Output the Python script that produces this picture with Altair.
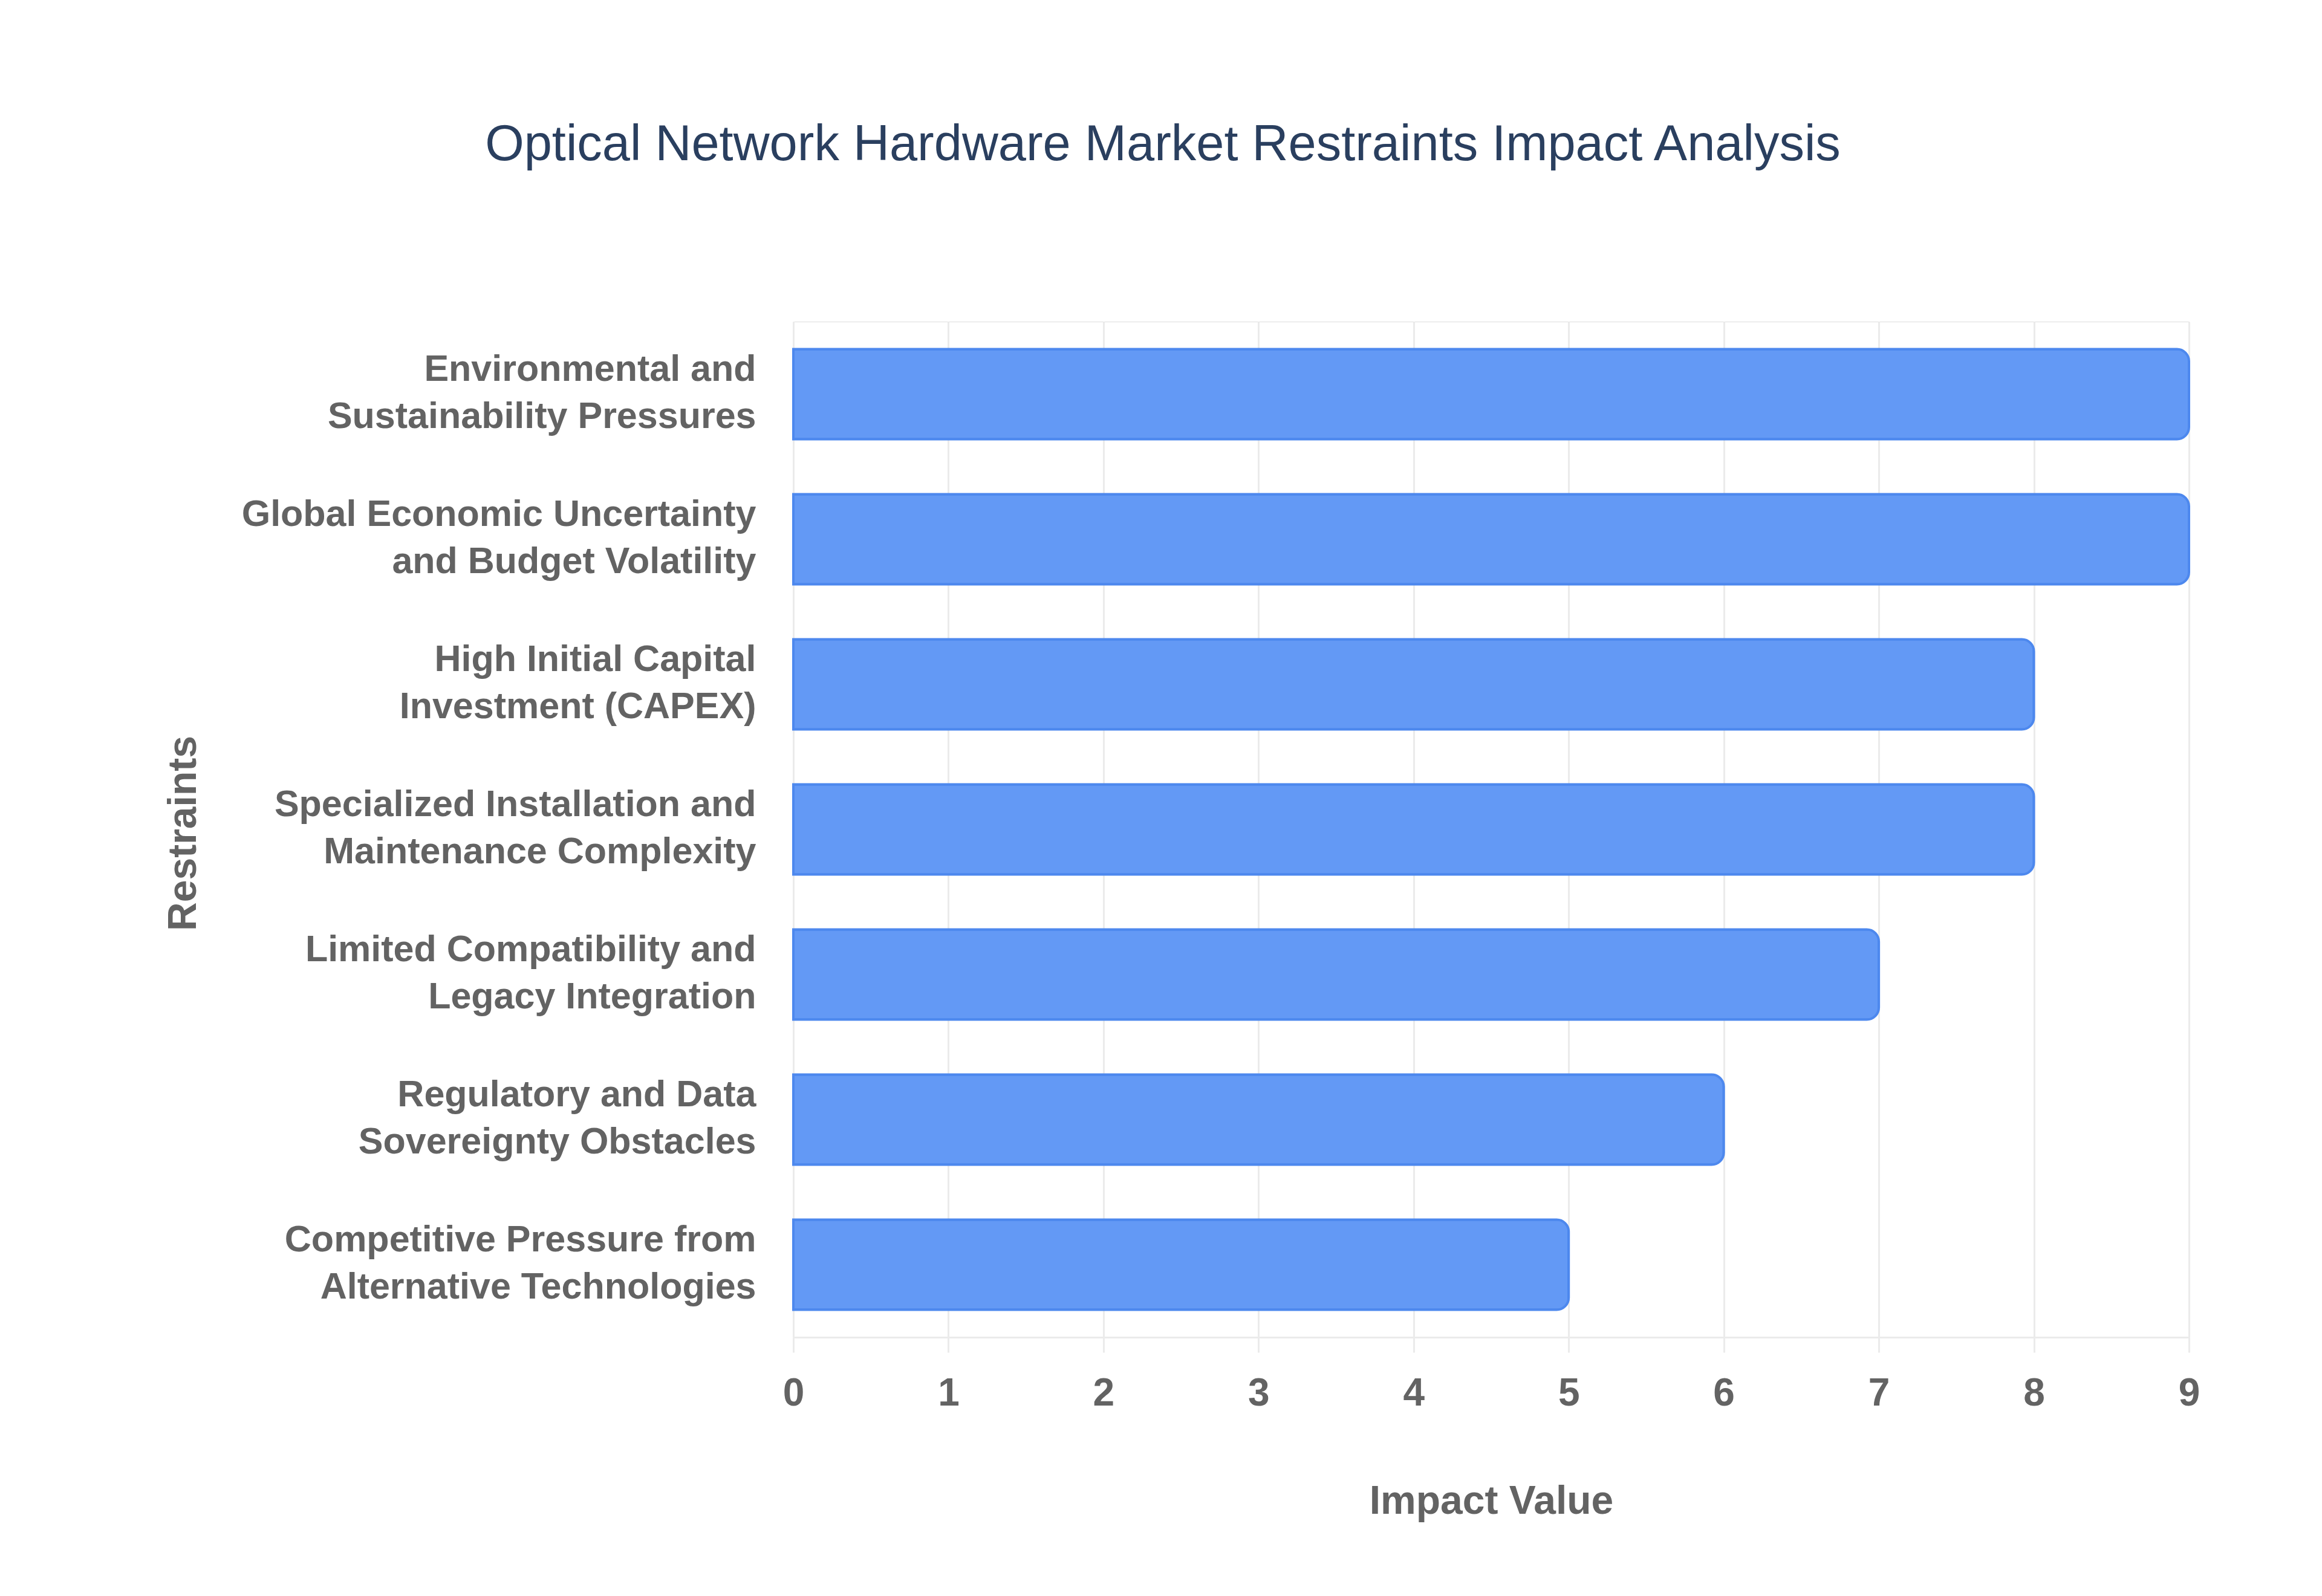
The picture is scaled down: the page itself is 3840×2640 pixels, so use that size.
import altair as alt
import pandas as pd

categories = [
    "Environmental and\nSustainability Pressures",
    "Global Economic Uncertainty\nand Budget Volatility",
    "High Initial Capital\nInvestment (CAPEX)",
    "Specialized Installation and\nMaintenance Complexity",
    "Limited Compatibility and\nLegacy Integration",
    "Regulatory and Data\nSovereignty Obstacles",
    "Competitive Pressure from\nAlternative Technologies",
]
impact = [9, 9, 8, 8, 7, 6, 5]
x_ticks = [0, 1, 2, 3, 4, 5, 6, 7, 8, 9]

df = pd.DataFrame({"Restraint": categories, "Impact": impact})

LABEL_FONT = "Liberation Sans, Arial, sans-serif"
GRAY = "#636363"
GRID = "#ebebeb"

chart = (
    alt.Chart(df)
    .mark_bar(
        color="#6399f5",
        stroke="#4d88ee",
        strokeWidth=4,
        cornerRadiusEnd=20,
    )
    .encode(
        x=alt.X(
            "Impact:Q",
            scale=alt.Scale(domain=[0, 9], nice=False),
            axis=alt.Axis(
                title="Impact Value",
                values=x_ticks,
                format="d",
                grid=True,
                gridColor=GRID,
                gridWidth=3,
                domain=True,
                domainColor=GRID,
                domainWidth=3,
                ticks=True,
                tickColor=GRID,
                tickWidth=3,
                tickSize=25,
                labelFlush=False,
                labelPadding=68,
                labelBaseline="middle",
                labelFont=LABEL_FONT,
                labelFontWeight="bold",
                labelFontSize=64,
                labelColor=GRAY,
                titleFont=LABEL_FONT,
                titleFontWeight="bold",
                titleFontSize=66,
                titleColor=GRAY,
                titleBaseline="middle",
                titleY=271,
            ),
        ),
        y=alt.Y(
            "Restraint:N",
            sort=categories,
            scale=alt.Scale(paddingInner=0.38, paddingOuter=0.19),
            axis=alt.Axis(
                title="Restraints",
                grid=False,
                domain=True,
                domainColor=GRID,
                domainWidth=3,
                ticks=False,
                tickSize=0,
                labelPadding=62,
                labelOffset=-40,
                labelExpr="split(datum.label, '\\n')",
                labelLineHeight=78,
                labelAlign="right",
                labelBaseline="middle",
                labelFont=LABEL_FONT,
                labelFontWeight="bold",
                labelFontSize=61,
                labelColor=GRAY,
                labelLimit=2000,
                titleFont=LABEL_FONT,
                titleFontWeight="bold",
                titleFontSize=66,
                titleColor=GRAY,
                titleAngle=270,
                titleBaseline="middle",
                titleX=-1009,
                titleY=846,
            ),
        ),
    )
    .properties(
        width=2308,
        height=1680,
        autosize=alt.AutoSizeParams(type="none"),
        padding={"left": 1304, "top": 524, "right": 200, "bottom": 400},
        title=alt.TitleParams(
            text="Optical Network Hardware Market Restraints Impact Analysis",
            font=LABEL_FONT,
            fontSize=83,
            fontWeight="normal",
            color="#2a3f5f",
            anchor="middle",
            dx=-543,
            offset=250,
        ),
    )
    .configure_view(stroke=None)
    .configure(background="white")
)

chart.save("out.html", embed_options={"renderer": "svg", "actions": False})
